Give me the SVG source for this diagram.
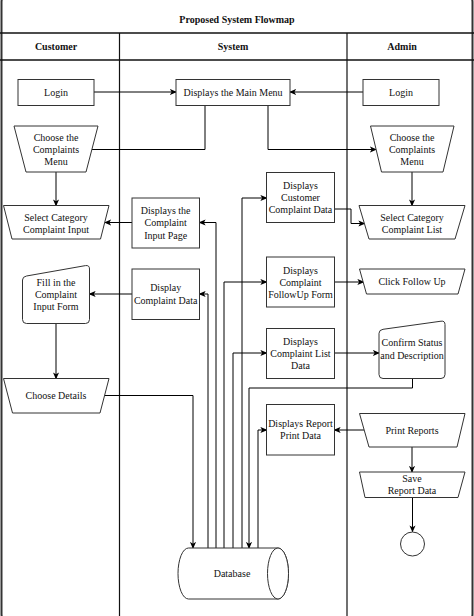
<svg xmlns="http://www.w3.org/2000/svg" width="474" height="616" viewBox="0 0 474 616">
<defs>
<style>
text{font-family:"Liberation Serif","Times New Roman",serif;font-size:10px;fill:#111;text-anchor:middle}
.b{font-weight:bold}
.n{fill:#fff;stroke:#333;stroke-width:1}
.c{fill:none;stroke:#000;stroke-width:1}
.ln{fill:none;stroke:#111}
</style>
<marker id="ar" viewBox="0 0 8 8" refX="7" refY="4" markerWidth="7" markerHeight="7" markerUnits="userSpaceOnUse" orient="auto">
<path d="M0,0.5 L8,4 L0,7.5 L2,4 Z" fill="#000"/>
</marker>
</defs>
<rect width="474" height="616" fill="#fff"/>
<g id="frame">
<rect x="1.5" y="-8" width="471" height="632" rx="10" fill="none" stroke="#333" stroke-width="2"/>
<line class="ln" x1="0" y1="33" x2="474" y2="33" stroke-width="1.6"/>
<line class="ln" x1="0" y1="60" x2="474" y2="60" stroke-width="1.6"/>
<line class="ln" x1="119.5" y1="33" x2="119.5" y2="616" stroke-width="1.2"/>
<line class="ln" x1="347" y1="33" x2="347" y2="616" stroke-width="1.2"/>
<text class="b" x="237" y="22.5">Proposed System Flowmap</text>
<text class="b" x="56" y="49.5">Customer</text>
<text class="b" x="233" y="49.5">System</text>
<text class="b" x="402" y="49.5">Admin</text>
</g>
<g id="connectors">
<path class="c" d="M94,92 H176" marker-end="url(#ar)"/>
<path class="c" d="M363,92 H290" marker-end="url(#ar)"/>
<path class="c" d="M205,105 V149.5 H92"/>
<path class="c" d="M268,105 V149.5 H376" marker-end="url(#ar)"/>
<path class="c" d="M56,172 V205.5" marker-end="url(#ar)"/>
<path class="c" d="M412,172 V205.5" marker-end="url(#ar)"/>
<path class="c" d="M132,222.5 H105" marker-end="url(#ar)"/>
<path class="c" d="M216,548 V222.5 H199.5" marker-end="url(#ar)"/>
<path class="c" d="M242,548 V198 H266.5" marker-end="url(#ar)"/>
<path class="c" d="M334.5,209 H351 V223.5 H364.5" marker-end="url(#ar)"/>
<path class="c" d="M224,548 V282 H266.5" marker-end="url(#ar)"/>
<path class="c" d="M334.5,282 H363.5" marker-end="url(#ar)"/>
<path class="c" d="M208,548 V294 H199.5" marker-end="url(#ar)"/>
<path class="c" d="M132,294 H89.5" marker-end="url(#ar)"/>
<path class="c" d="M56,323.5 V378.5" marker-end="url(#ar)"/>
<path class="c" d="M105,395.5 H193 V548" marker-end="url(#ar)"/>
<path class="c" d="M233,548 V353 H266.5" marker-end="url(#ar)"/>
<path class="c" d="M334.5,353 H379" marker-end="url(#ar)"/>
<path class="c" d="M412.5,378.5 V388 H249 V548" marker-end="url(#ar)"/>
<path class="c" d="M258,548 V430 H266.5" marker-end="url(#ar)"/>
<path class="c" d="M364,430 H334.5" marker-end="url(#ar)"/>
<path class="c" d="M412,447 V472" marker-end="url(#ar)"/>
<path class="c" d="M412.5,497.5 V531.5" marker-end="url(#ar)"/>
</g>
<g id="c-login">
<rect class="n" x="18" y="79.5" width="76" height="26"/>
<text x="56" y="96">Login</text>
</g>
<g id="main-menu">
<rect class="n" x="176" y="79.5" width="114" height="26"/>
<text x="233" y="96">Displays the Main Menu</text>
</g>
<g id="a-login">
<rect class="n" x="363" y="79.5" width="76" height="26"/>
<text x="401" y="96">Login</text>
</g>
<g id="c-choose">
<polygon class="n" points="14,126 98,126 86,172 26,172"/>
<text x="56" y="140.5">Choose the</text>
<text x="56" y="152.5">Complaints</text>
<text x="56" y="164.5">Menu</text>
</g>
<g id="a-choose">
<polygon class="n" points="370.5,126 454,126 443,172 381.5,172"/>
<text x="412" y="140.5">Choose the</text>
<text x="412" y="152.5">Complaints</text>
<text x="412" y="164.5">Menu</text>
</g>
<g id="c-select">
<polygon class="n" points="3.5,205.5 109,205.5 100.5,239 12,239"/>
<text x="56" y="220.5">Select Category</text>
<text x="56" y="232.5">Complaint Input</text>
</g>
<g id="a-select">
<polygon class="n" points="359,205.5 465,205.5 455,239 369,239"/>
<text x="412" y="220.5">Select Category</text>
<text x="412" y="232.5">Complaint List</text>
</g>
<g id="input-page">
<rect class="n" x="132" y="198" width="67.5" height="50"/>
<text x="165.7" y="214">Displays the</text>
<text x="165.7" y="226">Complaint</text>
<text x="165.7" y="238.5">Input Page</text>
</g>
<g id="cust-data">
<rect class="n" x="266.5" y="172.5" width="68" height="50"/>
<text x="300.5" y="188.5">Displays</text>
<text x="300.5" y="201">Customer</text>
<text x="300.5" y="213">Complaint Data</text>
</g>
<g id="followup-form">
<rect class="n" x="266.5" y="257" width="68" height="50"/>
<text x="300.5" y="273.5">Displays</text>
<text x="300.5" y="285.5">Complaint</text>
<text x="300.5" y="298">FollowUp Form</text>
</g>
<g id="click-followup">
<polygon class="n" points="359.5,269 465,269 458,294 366.5,294"/>
<text x="412" y="285">Click Follow Up</text>
</g>
<g id="display-data">
<rect class="n" x="132" y="269" width="67.5" height="50.5"/>
<text x="165.7" y="291">Display</text>
<text x="165.7" y="304">Complaint Data</text>
</g>
<g id="fill-in">
<path class="n" d="M26.5,276 L85.5,265.6 Q89.5,265 89.5,269 V319.5 Q89.5,323.5 85.5,323.5 H26.5 Q22.5,323.5 22.5,319.5 V280 Q22.5,276.7 26.5,276 Z"/>
<text x="56" y="285.5">Fill in the</text>
<text x="56" y="297.5">Complaint</text>
<text x="56" y="310">Input Form</text>
</g>
<g id="choose-details">
<polygon class="n" points="3.5,378.5 109,378.5 100,413 12.5,413"/>
<text x="56" y="399">Choose Details</text>
</g>
<g id="list-data">
<rect class="n" x="266.5" y="328.5" width="68" height="50"/>
<text x="300.5" y="344.5">Displays</text>
<text x="300.5" y="356.5">Complaint List</text>
<text x="300.5" y="369">Data</text>
</g>
<g id="confirm">
<path class="n" d="M383,329.3 L441,321.2 Q445,320.6 445,324.6 V374.5 Q445,378.5 441,378.5 H383 Q379,378.5 379,374.5 V333.3 Q379,329.9 383,329.3 Z"/>
<text x="412" y="345.5">Confirm Status</text>
<text x="412" y="359">and Description</text>
</g>
<g id="report-data">
<rect class="n" x="266.5" y="404.5" width="68" height="50.5"/>
<text x="300.5" y="427">Displays Report</text>
<text x="300.5" y="439">Print Data</text>
</g>
<g id="print-reports">
<polygon class="n" points="359.5,413.5 465,413.5 457,447 369,447"/>
<text x="412" y="433.5">Print Reports</text>
</g>
<g id="save-report">
<polygon class="n" points="359.5,472 465,472 458,497.5 365,497.5"/>
<text x="412" y="482">Save</text>
<text x="412" y="494">Report Data</text>
</g>
<g id="end">
<circle class="n" cx="412.5" cy="544" r="12"/>
</g>
<g id="database">
<path class="n" d="M188.5,548 H278 A10.5,25.5 0 0 1 278,599 H188.5 A10.5,25.5 0 0 1 188.5,548 Z"/>
<ellipse class="n" cx="278" cy="573.5" rx="10.5" ry="25.5"/>
<text x="232" y="577">Database</text>
</g>
</svg>
